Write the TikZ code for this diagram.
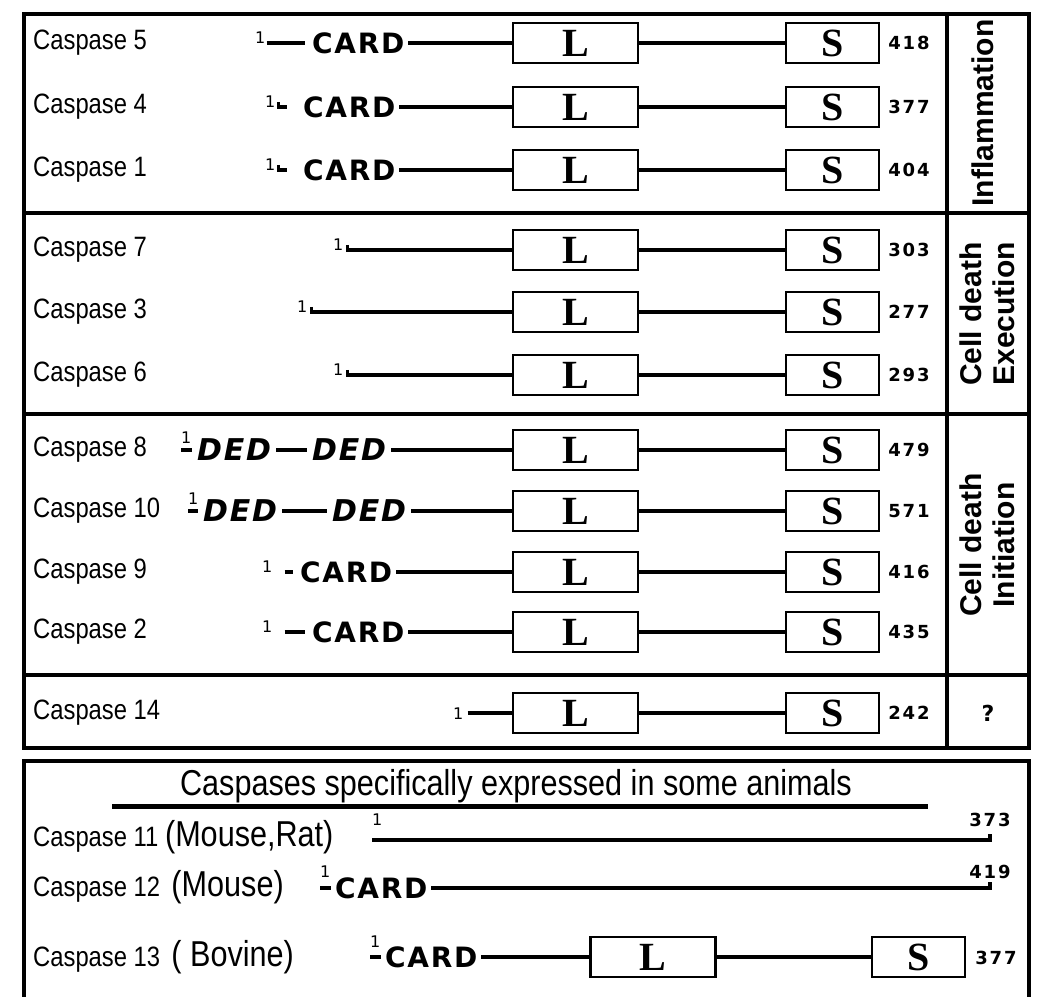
\documentclass[tikz,border=0pt]{standalone}
\usepackage{fontspec}
\setmainfont{Liberation Sans}
\newfontfamily\labfont[FakeStretch=0.85]{Liberation Sans}
\newfontfamily\domfont[LetterSpace=6]{DejaVu Sans}
\newfontfamily\numfont[LetterSpace=10]{DejaVu Sans}
\newfontfamily\lsfont{Liberation Serif}
\newfontfamily\ttlfont[FakeStretch=0.85]{Liberation Sans}
\usetikzlibrary{positioning}

\begin{document}
\begin{tikzpicture}[
	x = 1pt, y = -1pt,
	frame/.style = {line width=4.5pt},
	chain/.style = {line width=3.5pt},
	lab/.style = {anchor=west, inner sep=0pt,
		font=\labfont\fontsize{28}{30}\selectfont},
	host/.style = {font=\rmfamily\fontsize{30}{30}\selectfont},
	one/.style = {anchor=south west, inner sep=0pt,
		font=\numfont\fontsize{16}{16}\selectfont},
	dom/.style = {anchor=west, inner xsep=4pt, inner ysep=0pt,
		font=\domfont\bfseries\fontsize{28}{30}\selectfont},
	ded/.style = {dom, inner xsep=5pt,
		font=\domfont\bfseries\itshape\fontsize{30}{30}\selectfont},
	lbox/.style = {draw, line width=2.5pt, minimum width=125pt,
		minimum height=40pt, inner sep=0pt,
		font=\lsfont\bfseries\fontsize{40}{40}\selectfont},
	sbox/.style = {lbox, minimum width=93pt},
	num/.style = {inner sep=0pt,
		font=\numfont\bfseries\fontsize{18}{18}\selectfont},
	grp/.style = {rotate=90, align=center, inner sep=0pt,
		font=\bfseries\fontsize{30}{33}\selectfont},
	ttl/.style = {inner sep=0pt, font=\ttlfont\fontsize{36}{38}\selectfont},
	]
	\useasboundingbox (0,0) rectangle (1049,996);
	% frames
	\draw[frame] (24,14) rectangle (1029,748);
	\draw[frame] (947,14) -- (947,748);
	\foreach \y in {213,414,675} \draw[frame] (24,\y) -- (1029,\y);
	\draw[frame] (24,761) rectangle (1029,1000);
	% core: name, large and small subunit
	\foreach \y/\k/\m in {43/5/418, 107/4/377, 170/1/404, 250/7/303, 312/3/277,
		375/6/293, 450/8/479, 511/10/571, 572/9/416, 632/2/435, 713/14/242}
	{
		\node[lab] (c\k) at (33,\y) {Caspase \k};
		\node[lbox] (L\k) at (575.5,\y) {L};
		\node[sbox] (S\k) at (832.5,\y) {S};
		\node[num] (n\k) at (909,\y) {\m};
		\draw[chain] (L\k) -- (S\k);
	}
	% CARD prodomains
	\foreach \k/\y/\a/\b in {5/43/255/312, 4/107/265/303, 1/170/265/303,
		9/572/262/300, 2/632/262/312}
	{
		\node[one] (one\k) at (\a,\y+1) {1};
		\node[dom] (card\k) at (\b-4,\y) {CARD};
		\draw[chain] (card\k) -- (L\k);
	}
	\draw[chain] ([xshift=1pt]one5.east |- card5.west) -- ([xshift=-3pt]card5.west);
	\draw[chain] ([xshift=3pt]one4.east) |- ([xshift=-12pt]card4.west);
	\draw[chain] ([xshift=3pt]one1.east) |- ([xshift=-12pt]card1.west);
	\draw[chain] ([xshift=12pt]one9.east |- card9.west) -- ([xshift=-3pt]card9.west);
	\draw[chain] ([xshift=12pt]one2.east |- card2.west) -- ([xshift=-3pt]card2.west);
	% DED prodomains
	\foreach \k/\y/\a/\b/\d in {8/450/181/197/312, 10/511/188/203/332}
	{
		\node[one] (one\k) at (\a,\y-6) {1};
		\node[ded] (deda\k) at (\b-5,\y) {DED};
		\node[ded] (dedb\k) at (\d-5,\y) {DED};
		\draw[chain] (one\k.south west |- deda\k.west) -- (deda\k);
		\draw[chain] (deda\k) -- (dedb\k);
		\draw[chain] (dedb\k) -- (L\k);
	}
	% short prodomains
	\foreach \k/\y/\a in {7/250/333, 3/312/297, 6/375/333}
	{
		\node[one] (one\k) at (\a,\y+1) {1};
		\draw[chain] ([xshift=4pt]one\k.east) |- (L\k);
	}
	\node[one] (one14) at (453,720) {1};
	\draw[chain] ([xshift=4pt]one14.east |- L14.west) -- (L14.west);
	% groups
	\node[grp] (inf) at (983,113) {Inflammation};
	\node[grp] (exe) at (987,314) {Cell death\\Execution};
	\node[grp] (ini) at (987,545) {Cell death\\Initiation};
	\node[num, font=\numfont\bfseries\fontsize{22}{22}\selectfont] (unk) at (988,713) {?};
	% other animals
	\node[ttl] (ttl) at (516,786) {Caspases specifically expressed in some animals};
	\draw[line width=5pt] (112,806) -- (928,806);
	\node[lab] (c11) at (33,837) {Caspase 11 {\labfont\fontsize{36}{36}\selectfont(Mouse,Rat)}};
	\node[lab] (c12) at (33,887) {Caspase 12 \,{\labfont\fontsize{36}{36}\selectfont(Mouse)}};
	\node[lab] (c13) at (33,957) {Caspase 13 \,{\labfont\fontsize{36}{36}\selectfont( Bovine)}};
	\node[one] (one11) at (372,826) {1};
	\coordinate (e11) at (990,840);
	\node[num] (n11) at (990,820) {373};
	\draw[chain] (one11.south west |- e11) -- (e11) -- ++(0,-6);
	\node[one] (one12) at (320,878) {1};
	\node[dom] (card12) at (331,888) {CARD};
	\coordinate (e12) at (990,888);
	\node[num] (n12) at (990,872) {419};
	\draw[chain] (one12.south west |- card12.west) -- (card12);
	\draw[chain] (card12) -- (e12) -- ++(0,-6);
	\node[one] (one13) at (370,948) {1};
	\node[dom] (card13) at (381,957) {CARD};
	\node[lbox] (L13) at (653,957) {L};
	\node[sbox] (S13) at (918.5,957) {S};
	\node[num] (n13) at (996,958) {377};
	\draw[chain] (one13.south west |- card13.west) -- (card13);
	\draw[chain] (card13) -- (L13);
	\draw[chain] (L13) -- (S13);
\end{tikzpicture}
\end{document}
